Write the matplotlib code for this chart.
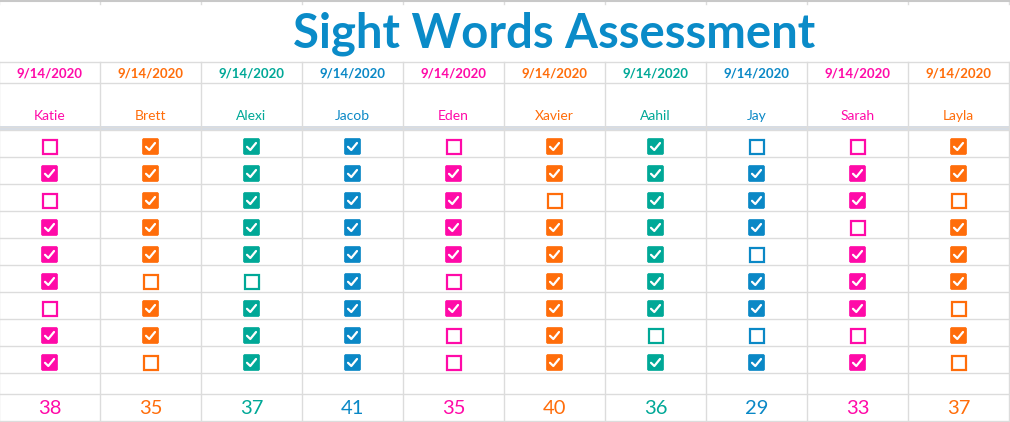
import matplotlib
matplotlib.use("Agg")
import matplotlib.pyplot as plt
import matplotlib.patches as mp

names = ["Katie", "Brett", "Alexi", "Jacob", "Eden", "Xavier", "Aahil", "Jay", "Sarah", "Layla"]
dates = ["9/14/2020"] * 10
totals = [38, 35, 37, 41, 35, 40, 36, 29, 33, 37]
checks = [
    [0, 1, 0, 1, 1, 1, 0, 1, 1],  # Katie
    [1, 1, 1, 1, 1, 0, 1, 1, 0],  # Brett
    [1, 1, 1, 1, 1, 0, 1, 1, 1],  # Alexi
    [1, 1, 1, 1, 1, 1, 1, 1, 1],  # Jacob
    [0, 1, 1, 1, 1, 0, 1, 0, 0],  # Eden
    [1, 1, 0, 1, 1, 1, 1, 1, 1],  # Xavier
    [1, 1, 1, 1, 1, 1, 1, 0, 1],  # Aahil
    [0, 1, 1, 1, 0, 1, 1, 0, 1],  # Jay
    [0, 1, 1, 0, 1, 1, 1, 0, 1],  # Sarah
    [1, 1, 0, 1, 1, 1, 0, 1, 0],  # Layla
]
palette = ["#ff0aa8", "#ff6d0a", "#00a897", "#0a88c6"]
title = "Sight Words Assessment"

W, H = 1010, 422
fig = plt.figure(figsize=(W / 100, H / 100), dpi=100)
ax = fig.add_axes([0, 0, 1, 1])
ax.set_xlim(0, W)
ax.set_ylim(H, 0)
ax.axis("off")

grid = "#dcdcdc"
col_edges = [-1 + 101 * i for i in range(11)]
row_edges = [62, 83, 127] + [130 + 27 * i for i in range(10)] + [394, 421]

# grid lines
for x in col_edges:
    ax.plot([x, x], [62, 421], color=grid, lw=1)
for x in col_edges:
    ax.plot([x, x], [0, 4], color=grid, lw=1)
ax.plot([0, W], [1, 1], color="#c8c8c8", lw=1.5)
for y in row_edges:
    ax.plot([0, W], [y, y], color=grid, lw=1)
ax.add_patch(mp.Rectangle((0, 126), W, 4, color="#d5dce6", lw=0))

ax.text(554, 34, title, ha="center", va="center", fontsize=34, fontweight="bold",
        color="#0a8bc8", family="Lato")

box = 16
for i, name in enumerate(names):
    c = palette[i % 4]
    cx = col_edges[i] + 50.5
    ax.text(cx, 73, dates[i], ha="center", va="center", fontsize=9.5, fontweight="bold",
            color=c, family="Lato")
    ax.text(cx, 116, name, ha="center", va="center", fontsize=10, color=c, family="Lato")
    ax.text(cx, 408, str(totals[i]), ha="center", va="center", fontsize=14.5, color=c,
            family="Lato")
    for r, v in enumerate(checks[i]):
        cy = 130 + 27 * r + 16.5
        if v:
            ax.add_patch(mp.FancyBboxPatch((cx - box / 2, cy - box / 2), box, box,
                                           boxstyle="round,pad=0,rounding_size=1.5",
                                           facecolor=c, edgecolor=c, lw=0.5))
            ax.plot([cx - 4.5, cx - 1.2, cx + 4.5], [cy + 0.3, cy + 3.5, cy - 3.5],
                    color="white", lw=1.6, solid_capstyle="round", solid_joinstyle="round")
        else:
            ax.add_patch(mp.Rectangle((cx - box / 2 + 1, cy - box / 2 + 1), box - 2, box - 2,
                                      facecolor="white", edgecolor=c, lw=1.6))

fig.savefig("out.png", dpi=100)
